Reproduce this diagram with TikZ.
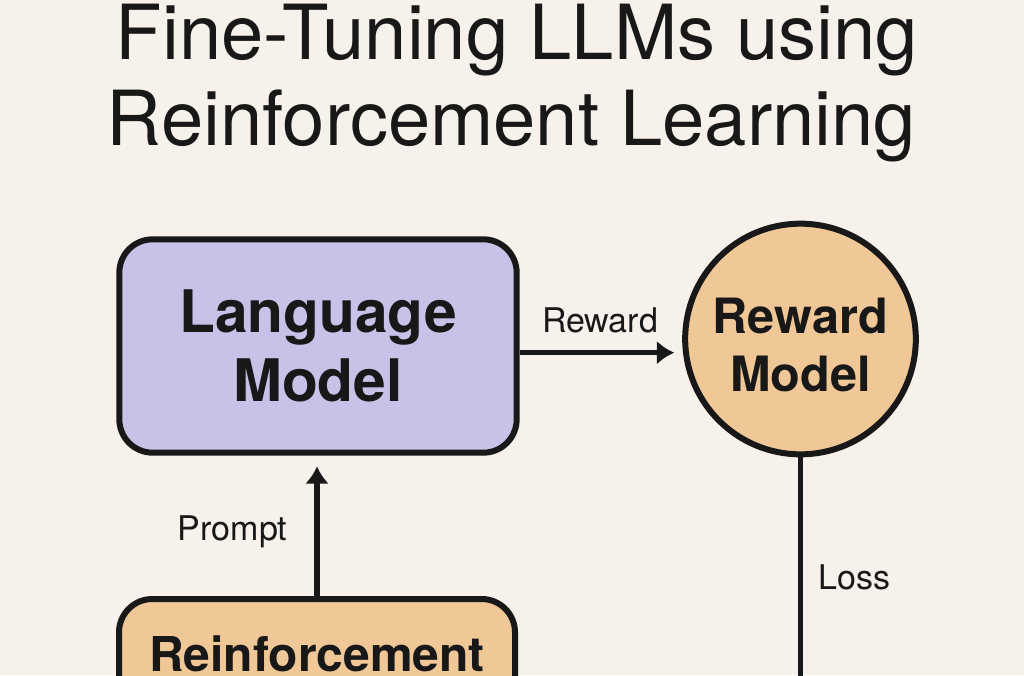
\documentclass[tikz,border=0pt]{standalone}
\usepackage{fontspec}
\setmainfont{TeX Gyre Heros}
\usepackage{tikz}
\usetikzlibrary{arrows.meta}
\definecolor{paper}{HTML}{F6F2EB}
\definecolor{lavender}{HTML}{C9C1E8}
\definecolor{peach}{HTML}{F0C797}
\definecolor{ink}{HTML}{181818}

\begin{document}
\begin{tikzpicture}[x=0.75pt,y=-0.75pt,>={Latex[length=13pt,width=18pt]},
  block/.style={draw=ink,line width=4.5pt,rounded corners=25pt,text=ink,align=center},
  lbl/.style={font=\fontsize{25.5}{30}\selectfont,text=ink,inner sep=0pt,anchor=base},
  wire/.style={draw=ink,line width=3.8pt}]
\useasboundingbox (0,0) rectangle (1024,675);
\fill[paper] (0,0) rectangle (1024,675);
\clip (0,0) rectangle (1024,675);

% title
\node[font=\fontsize{57}{64}\selectfont,text=ink,inner sep=0pt,anchor=base] (title1) at (517,59) {Fine-Tuning LLMs using};
\node[font=\fontsize{57}{64}\selectfont,text=ink,inner sep=0pt,anchor=base] (title2) at (511.5,145) {Reinforcement Learning};

% blocks
\node[block,fill=lavender,minimum width=298pt,minimum height=160pt,
  font=\bfseries\fontsize{44}{52}\selectfont] (lm) at (318,346) {Language\\Model};
\node[block,circle,fill=peach,minimum size=173pt,
  font=\bfseries\fontsize{36.5}{43.5}\selectfont] (rm) at (800.5,339) {\rule{0pt}{35pt}Reward\\Model};
\node[block,fill=peach,minimum width=297pt,anchor=north,text height=27pt,text depth=150pt,
  inner ysep=27pt,font=\bfseries\fontsize{36}{42}\selectfont] (rl) at (317,596) {Reinforcement};

% connectors
\draw[wire,->,shorten >=6pt] ([yshift=-5pt]lm.east) -- ([yshift=-5pt]lm.east -| rm.west);
\node[lbl] (rewardlbl) at (600,332) {Reward};
\draw[wire,->,shorten >=8pt] (rl.north) -- (rl.north |- lm.south);
\node[lbl] (promptlbl) at (232.5,540) {Prompt};
\coordinate (lossend) at (800.5,690);
\draw[wire] (rm.south) -- (lossend);
\node[lbl] (losslbl) at (854.5,589) {Loss};
\end{tikzpicture}
\end{document}
